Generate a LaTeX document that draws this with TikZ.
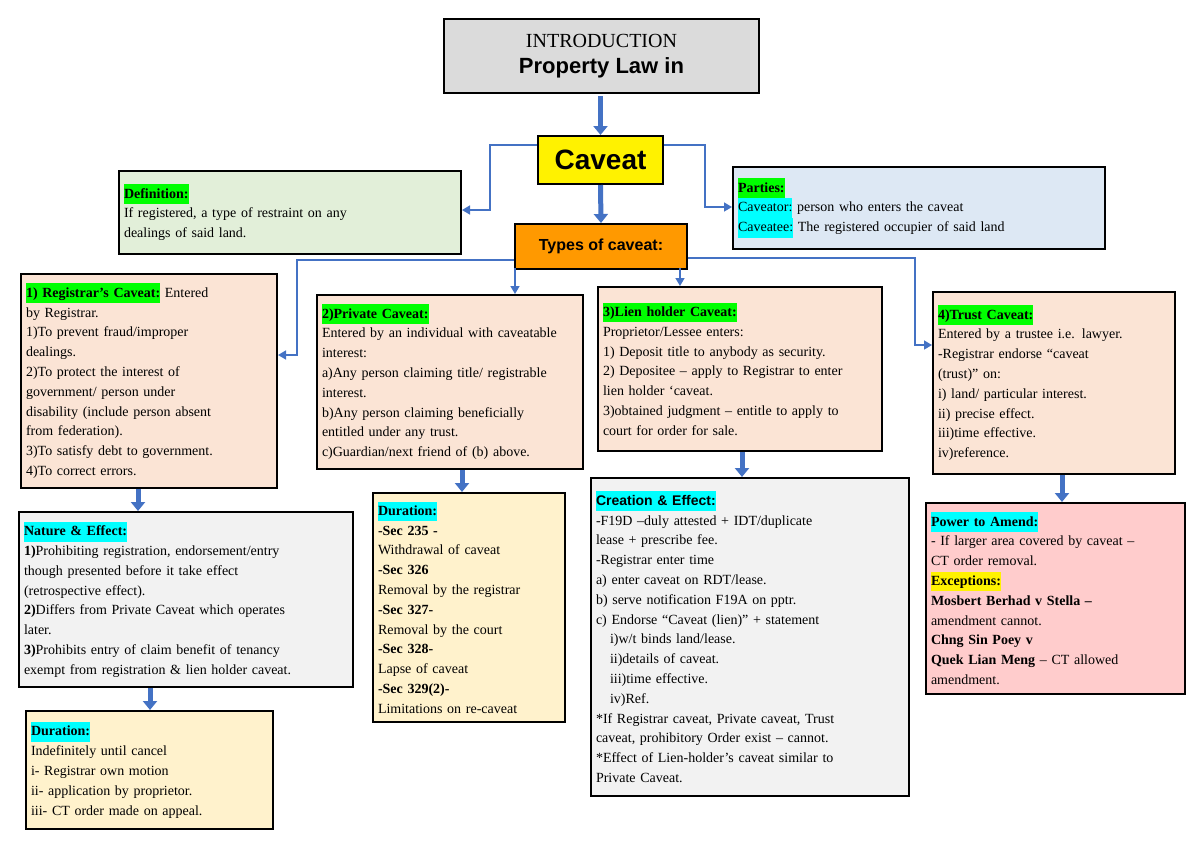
\documentclass[tikz,border=0pt]{standalone}
\usepackage{fontspec}
\setmainfont{Liberation Serif}
\setsansfont{Liberation Sans}
\usetikzlibrary{arrows.meta}
\definecolor{arrowblue}{RGB}{68,114,196}
\definecolor{peach}{RGB}{251,228,213}
\definecolor{greybox}{RGB}{242,242,242}
\definecolor{creambox}{RGB}{255,242,204}
\definecolor{pinkbox}{RGB}{255,204,204}
\definecolor{defgreen}{RGB}{226,239,217}
\definecolor{partyblue}{RGB}{221,232,244}
\definecolor{hlgreen}{RGB}{0,255,0}
\definecolor{hlcyan}{RGB}{0,255,255}
\newcommand{\hlg}[1]{{\fboxsep=0pt\colorbox{hlgreen}{\strut\textbf{#1}}}}
\newcommand{\hlc}[1]{{\fboxsep=0pt\colorbox{hlcyan}{\strut#1}}}
\newcommand{\hly}[1]{{\fboxsep=0pt\colorbox{yellow}{\strut\textbf{#1}}}}
\tikzset{
  infobox/.style={draw=black, line width=2pt, anchor=north west, align=left,
    inner sep=5pt, font=\fontsize{14}{19.8}\selectfont},
  thin link/.style={draw=arrowblue, line width=1.6pt, -{Triangle[length=8pt,width=9pt]}},
  fat link/.style={draw=arrowblue, line width=5pt, -{Triangle[length=9pt,width=14pt]}}
}
\begin{document}
\begin{tikzpicture}[x=1pt,y=-1pt]
\useasboundingbox (0,0) rectangle (1200,847);

% top of the chart
\node[draw=black, line width=2pt, fill=greybox!80!gray, minimum width=315pt, minimum height=74pt,
  anchor=north west, align=center] (intro) at (443,18)
  {\fontsize{20}{24}\selectfont INTRODUCTION\\[9pt]\fontsize{22}{26}\selectfont\sffamily\bfseries Property Law in};
\node[draw=black, line width=2pt, fill=yellow, minimum width=125pt, minimum height=48pt,
  anchor=north west, font=\sffamily\bfseries\fontsize{28}{30}\selectfont] (caveat) at (537,135) {Caveat};
\node[infobox, fill=defgreen, text width=332pt, minimum height=83pt] (definition) at (118,170)
  {\hlg{Definition:}\\If registered, a type of restraint on any\\dealings of said land.};
\node[infobox, fill=partyblue, text width=362pt, minimum height=82pt] (parties) at (732,166)
  {\hlg{Parties:}\\\hlc{Caveator:} person who enters the caveat\\\hlc{Caveatee:} The registered occupier of said land};
\node[draw=black, line width=2pt, fill=orange!80!yellow, minimum width=172pt, minimum height=45pt,
  anchor=north west, font=\sffamily\bfseries\fontsize{16}{18}\selectfont] (types) at (514,223) {Types of caveat:};

% the four kinds
\node[infobox, fill=peach, text width=246pt, minimum height=214pt] (registrar) at (20,273)
  {\hlg{1) Registrar's Caveat:} Entered\\by Registrar.\\1)To prevent fraud/improper\\dealings.\\2)To protect the interest of\\government/ person under\\disability (include person absent\\from federation).\\3)To satisfy debt to government.\\4)To correct errors.};
\node[infobox, fill=peach, text width=256pt, minimum height=174pt] (private) at (316,294)
  {\hlg{2)Private Caveat:}\\Entered by an individual with caveatable\\interest:\\a)Any person claiming title/ registrable\\interest.\\b)Any person claiming beneficially\\entitled under any trust.\\c)Guardian/next friend of (b) above.};
\node[infobox, fill=peach, text width=274pt, minimum height=164pt] (lien) at (597,286)
  {\hlg{3)Lien holder Caveat:}\\Proprietor/Lessee enters:\\1) Deposit title to anybody as security.\\2) Depositee -- apply to Registrar to enter\\lien holder `caveat.\\3)obtained judgment -- entitle to apply to\\court for order for sale.};
\node[infobox, fill=peach, text width=232pt, minimum height=182pt] (trust) at (932,291)
  {\hlg{4)Trust Caveat:}\\ Entered by a trustee i.e. lawyer.\\-Registrar endorse ``caveat\\(trust)'' on:\\ i) land/ particular interest.\\ii) precise effect.\\ iii)time effective.\\ iv)reference.};

% lower boxes
\node[infobox, fill=greybox, text width=324pt, minimum height=175pt] (nature) at (18,511)
  {\hlc{\textbf{Nature \& Effect:}}\\\textbf{1)}Prohibiting registration, endorsement/entry\\though presented before it take effect\\(retrospective effect).\\\textbf{2)}Differs from Private Caveat which operates\\later.\\\textbf{3)}Prohibits entry of claim benefit of tenancy\\exempt from registration \& lien holder caveat.};
\node[infobox, fill=creambox, text width=237pt, minimum height=118pt] (durreg) at (25,710)
  {\hlc{\textbf{Duration:}}\\Indefinitely until cancel\\i- Registrar own motion\\ii- application by proprietor.\\iii- CT order made on appeal.};
\node[infobox, fill=creambox, text width=182pt, minimum height=229pt] (durpriv) at (372,492)
  {\hlc{\textbf{Duration:}}\\\textbf{-Sec 235 -}\\Withdrawal of caveat\\\textbf{-Sec 326}\\Removal by the registrar\\\textbf{-Sec 327-}\\Removal by the court\\\textbf{-Sec 328-}\\Lapse of caveat\\\textbf{-Sec 329(2)-}\\Limitations on re-caveat};
\node[infobox, fill=greybox, text width=308pt, minimum height=318pt] (creation) at (590,477)
  {\hlc{\sffamily\bfseries Creation \& Effect:}\\-F19D --duly attested + IDT/duplicate\\lease + prescribe fee.\\-Registrar enter time\\a) enter caveat on RDT/lease.\\b) serve notification F19A on pptr.\\c) Endorse ``Caveat (lien)'' + statement\\\quad i)w/t binds land/lease.\\\quad ii)details of caveat.\\\quad iii)time effective.\\\quad iv)Ref.\\{}*If Registrar caveat, Private caveat, Trust\\caveat, prohibitory Order exist -- cannot.\\{}*Effect of Lien-holder's caveat similar to\\Private Caveat.};
\node[infobox, fill=pinkbox, text width=249pt, minimum height=191pt] (amend) at (925,502)
  {\hlc{\textbf{Power to Amend:}}\\- If larger area covered by caveat --\\CT order removal.\\\hly{Exceptions:}\\\textbf{Mosbert Berhad v Stella --}\\amendment cannot.\\\textbf{Chng Sin Poey v}\\\textbf{Quek Lian Meng} -- CT allowed\\amendment.};

% thick arrows
\draw[fat link] (intro.south -| caveat.north) ++(0,2) -- (caveat.north);
\draw[fat link] (caveat.south) -- (types.north);
\draw[fat link] (registrar.south -| 138,0) -- (nature.north -| 138,0);
\draw[fat link] (nature.south -| 150,0) -- (durreg.north -| 150,0);
\draw[fat link] (private.south -| 462,0) -- (durpriv.north -| 462,0);
\draw[fat link] (lien.south -| 742,0) -- (creation.north -| 742,0);
\draw[fat link] (trust.south -| 1062,0) -- (amend.north -| 1062,0);

% thin arrows
\draw[thin link] (caveat.west |- 0,145) -- (490,145) -- (490,210) -- (definition.east |- 0,210);
\draw[thin link] (caveat.east |- 0,145) -- (705,145) -- (705,207) -- (parties.west |- 0,207);
\draw[thin link] (types.west |- 0,260) -- (297,260) -- (297,355) -- (registrar.east |- 0,355);
\draw[thin link] (515,268) -- (private.north -| 515,0);
\draw[thin link] (680,268) -- (lien.north -| 680,0);
\draw[thin link] (types.east |- 0,258) -- (915,258) -- (915,345) -- (trust.west |- 0,345);
\end{tikzpicture}
\end{document}
